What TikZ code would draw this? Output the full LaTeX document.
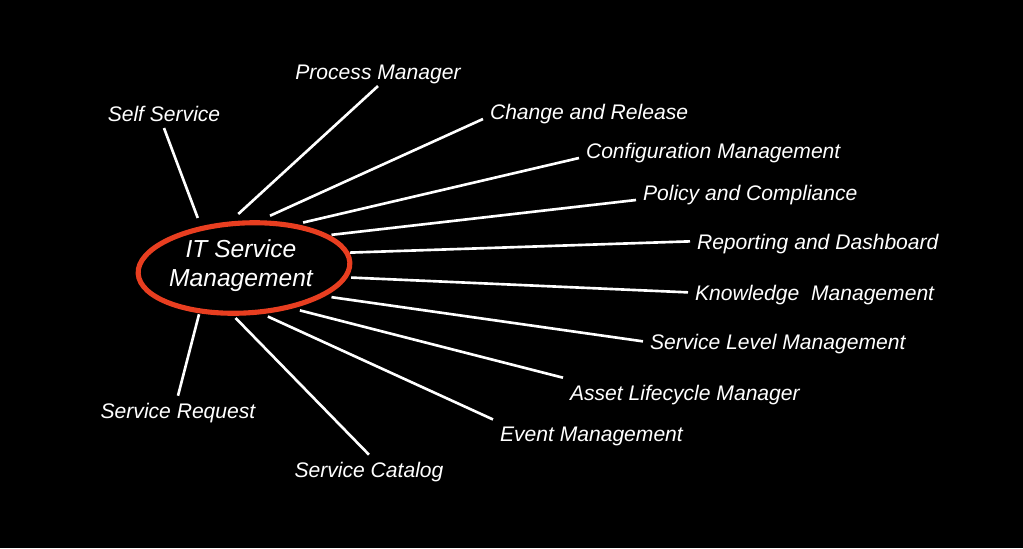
\documentclass[tikz,border=0pt]{standalone}
\usepackage{fontspec}
\setmainfont{Liberation Sans}
\usetikzlibrary{shapes.geometric}
\definecolor{ringred}{RGB}{232,62,32}
\begin{document}
\begin{tikzpicture}[x=0.02cm, y=-0.02cm,
				    topic/.style={text=white, inner sep=1pt, outer sep=3pt, text depth=0pt,
				    			  font=\fontsize{12}{14}\selectfont\itshape},
				    hub/.style={ellipse, minimum width=4.24cm, minimum height=1.8cm,
				    			inner sep=0pt, outer sep=4pt, text=white, align=center,
				    			font=\fontsize{14}{16.5}\selectfont\itshape},
				    ring/.style={draw=ringred, line width=2.9pt},
				    spoke/.style={draw=white, line width=1.5pt}]
	\fill[black] (0,0) rectangle (1023,548);
	\useasboundingbox (0,0) rectangle (1023,548);
	% centre
	\node[hub] (itsm) at (241,266) {IT Service\\Management};
	\draw[ring, rotate around={3:(244,268)}] (244,268) ellipse [x radius=2.12cm, y radius=0.9cm];
	% topics
	\node[topic, anchor=base] (self) at (164,121) {Self Service};
	\node[topic, anchor=base] (proc) at (378,79) {Process Manager};
	\node[topic, anchor=base west] (chg) at (483,119) {Change and Release};
	\node[topic, anchor=base west] (cfg) at (579,158) {Configuration Management};
	\node[topic, anchor=base west] (pol) at (636,200) {Policy and Compliance};
	\node[topic, anchor=base west] (rep) at (690,249) {Reporting and Dashboard};
	\node[topic, anchor=base west] (know) at (688,300) {Knowledge\ \ Management};
	\node[topic, anchor=base west] (slm) at (643,349) {Service Level Management};
	\node[topic, anchor=base west] (asset) at (563,400) {Asset Lifecycle Manager};
	\node[topic, anchor=base west] (event) at (493,441) {Event Management};
	\node[topic, anchor=base] (cat) at (369,477) {Service Catalog};
	\node[topic, anchor=base] (req) at (178,418) {Service Request};
	\path[spoke] (itsm.132)  edge (self.south)
				 (itsm.93)   edge (proc.south)
				 (itsm.60)   edge (chg.base west)
				 (itsm.35)   edge (cfg.base west)
				 (itsm.19)   edge (pol.base west)
				 (itsm.7.5)  edge (rep.west)
				 (itsm.-6)   edge (know.west)
				 (itsm.-19)  edge (slm.west)
				 (itsm.-37)  edge (asset.north west)
				 (itsm.-62)  edge (event.north west)
				 (itsm.-96)  edge (cat.north)
				 (itsm.-131) edge (req.north);
\end{tikzpicture}
\end{document}
